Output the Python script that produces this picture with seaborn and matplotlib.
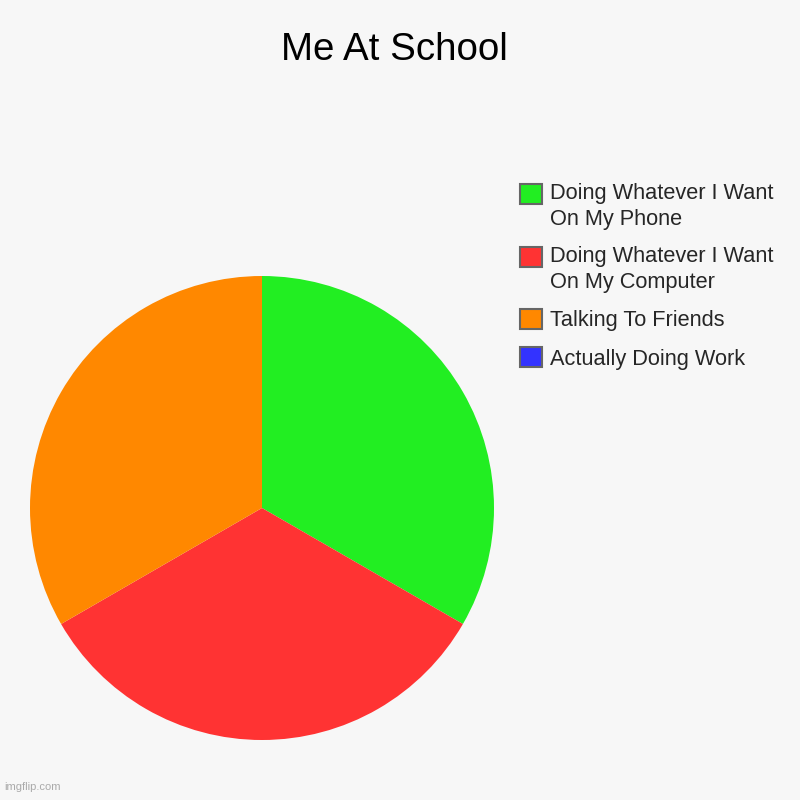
import matplotlib.pyplot as plt
from matplotlib.patches import Patch, Rectangle
from matplotlib.legend_handler import HandlerPatch
import seaborn as sns

# data
labels = ['Doing Whatever I Want\nOn My Phone', 'Doing Whatever I Want\nOn My Computer',
          'Talking To Friends', 'Actually Doing Work']
values = [1, 1, 1, 0]
colors = ['#22ee22', '#ff3333', '#ff8800', '#3333ff']

sns.set_theme(style='white')
plt.rcParams['font.family'] = ['Liberation Sans', 'DejaVu Sans']

bg = '#f7f7f7'
fig = plt.figure(figsize=(8, 8), dpi=100, facecolor=bg)
ax = fig.add_axes([0.0375, 0.075, 0.58, 0.58])
ax.set_facecolor(bg)
ax.pie(values, colors=colors, startangle=90, counterclock=False,
       wedgeprops={'linewidth': 0})
ax.set_xlim(-1, 1)
ax.set_ylim(-1, 1)
ax.set_aspect('equal')
ax.axis('off')

fig.text(0.493, 0.937, 'Me At School', ha='center', va='center', fontsize=27.7, color='black')


# put the colour box next to the first line of a two-line label
def box_for(lift):
    def make(legend, orig_handle, xdescent, ydescent, width, height, fontsize):
        return Rectangle((-xdescent, -ydescent + lift), width, height)
    return HandlerPatch(patch_func=make)


handles = [Patch(facecolor=c, edgecolor='#666666', linewidth=1.5) for c in colors]
handler_map = {h: box_for(9.4 if '\n' in lab else 0) for h, lab in zip(handles, labels)}
leg = fig.legend(handles, labels, loc='upper left', bbox_to_anchor=(0.65, 0.771),
                 frameon=False, fontsize=15.7, handlelength=1.0, handleheight=1.0,
                 handletextpad=0.37, labelspacing=0.74, borderaxespad=0, borderpad=0,
                 handler_map=handler_map)
for t in leg.get_texts():
    t.set_linespacing(1.3)

fig.text(0.005, 0.01, 'imgflip.com', fontsize=8, color='#aaaaaa', ha='left', va='bottom')

fig.savefig('out.png', dpi=100, facecolor=bg)
